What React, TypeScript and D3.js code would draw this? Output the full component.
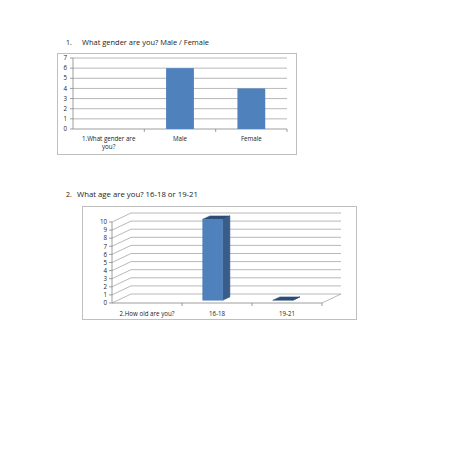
import * as d3 from "d3";

const genderCats = ["1.What gender are you?", "Male", "Female"];
const genderVals: (number | null)[] = [null, 6, 4];
const genderTicks = [0, 1, 2, 3, 4, 5, 6, 7];

const ageCats = ["2.How old are you?", "16-18", "19-21"];
const ageVals: (number | null)[] = [null, 10, 0];
const ageTicks = [0, 1, 2, 3, 4, 5, 6, 7, 8, 9, 10];

const FONT = "'Open Sans', 'Liberation Sans', sans-serif";
const GRID = "#a6a6a6";
const AXIS = "#868686";
const BOX = "#bfbfbf";
const BLUE = "#4f81bd";
const SIDE = "#385d8a";
const TOP = "#2c4d75";
const LABEL = 6.2;

function wrapLabel(label: string): string[] {
  // the long category name breaks onto two lines, like Excel does
  if (label.length < 16) return [label];
  const i = label.lastIndexOf(" ");
  return [label.slice(0, i), label.slice(i + 1)];
}

function GenderChart() {
  const left = 73;
  const right = 287;
  const x = d3
    .scaleBand<string>()
    .domain(genderCats)
    .range([left, right])
    .paddingInner(0.61)
    .paddingOuter(0.305);
  const step = x.step();
  const y = d3.scaleLinear([0, 7], [129, 58]);

  return (
    <g>
      <text x={66} y={44.5} fontSize={7} fontFamily={FONT} fill="#222">
        1.
      </text>
      <text
        x={82}
        y={44.5}
        fontSize={7}
        fontFamily={FONT}
        fill="#222"
        textLength={127}
        lengthAdjust="spacingAndGlyphs"
      >
        What gender are you? Male / Female
      </text>
      <rect x={57.5} y={53.5} width={239} height={101} fill="#fff" stroke={BOX} />
      {genderTicks.map((t) => (
        <g key={t}>
          {t > 0 && (
            <line x1={left} x2={right} y1={y(t)} y2={y(t)} stroke={GRID} strokeWidth={0.8} />
          )}
          <line x1={left - 3} x2={left} y1={y(t)} y2={y(t)} stroke={AXIS} strokeWidth={0.8} />
          <text
            x={left - 6}
            y={y(t) + 2.2}
            fontSize={LABEL}
            fontFamily={FONT}
            textAnchor="end"
            fill="#222"
          >
            {t}
          </text>
        </g>
      ))}
      <line x1={left} x2={left} y1={y(7)} y2={y(0)} stroke={AXIS} strokeWidth={0.8} />
      <line x1={left} x2={right} y1={y(0)} y2={y(0)} stroke={AXIS} strokeWidth={0.8} />
      {genderCats.map((c, i) => {
        const x0 = (x(c) ?? 0) - step * 0.305;
        const cx = (x(c) ?? 0) + x.bandwidth() / 2;
        const v = genderVals[i];
        return (
          <g key={c}>
            <line x1={x0 + step} x2={x0 + step} y1={y(0)} y2={y(0) + 3} stroke={AXIS} strokeWidth={0.8} />
            {v != null && (
              <rect
                x={x(c)}
                y={y(v)}
                width={x.bandwidth()}
                height={y(0) - y(v)}
                fill={BLUE}
              />
            )}
            {wrapLabel(c).map((line, j) => (
              <text
                key={j}
                x={cx}
                y={141 + j * 8}
                fontSize={LABEL}
                fontFamily={FONT}
                textAnchor="middle"
                fill="#222"
              >
                {line}
              </text>
            ))}
          </g>
        );
      })}
    </g>
  );
}

function AgeChart() {
  const left = 112;
  const right = 322;
  const depth = { dx: 19, dy: -9 };
  const x = d3.scaleBand<string>().domain(ageCats).range([left, right]);
  const y = d3.scaleLinear([0, 10], [303, 222]);
  const proj = (xf: number, v: number, d: number): [number, number] => [
    xf + d * depth.dx,
    y(v) + d * depth.dy,
  ];
  const pts = (p: [number, number][]) => p.map((q) => q.join(",")).join(" ");
  const dFront = 0.3;
  const dBack = 0.68;

  return (
    <g>
      <text x={66} y={196.5} fontSize={7} fontFamily={FONT} fill="#222">
        2.
      </text>
      <text
        x={77}
        y={196.5}
        fontSize={7}
        fontFamily={FONT}
        fill="#222"
        textLength={121}
        lengthAdjust="spacingAndGlyphs"
      >
        What age are you? 16-18 or 19-21
      </text>
      <rect x={82.5} y={206.5} width={274} height={113} fill="#fff" stroke={BOX} />
      {ageTicks.map((t) => {
        const [bx, by] = proj(left, t, 1);
        const [ex] = proj(right, t, 1);
        return (
          <g key={t}>
            <line x1={bx} x2={ex} y1={by} y2={by} stroke={GRID} strokeWidth={0.8} />
            <line x1={left} x2={bx} y1={y(t)} y2={by} stroke={GRID} strokeWidth={0.8} />
            <line x1={left - 3} x2={left} y1={y(t)} y2={y(t)} stroke={AXIS} strokeWidth={0.8} />
            <text
              x={left - 5}
              y={y(t) + 2.2}
              fontSize={LABEL}
              fontFamily={FONT}
              textAnchor="end"
              fill="#222"
            >
              {t}
            </text>
          </g>
        );
      })}
      <line x1={left} x2={left} y1={y(10)} y2={y(0)} stroke={AXIS} strokeWidth={0.8} />
      <line x1={left} x2={right} y1={y(0)} y2={y(0)} stroke={AXIS} strokeWidth={0.8} />
      <line
        x1={right}
        y1={y(0)}
        x2={proj(right, 0, 1)[0]}
        y2={proj(right, 0, 1)[1]}
        stroke={GRID}
        strokeWidth={0.8}
      />
      {ageCats.map((c, i) => {
        const x0 = x(c) ?? 0;
        const cx = x0 + x.bandwidth() / 2;
        const v = ageVals[i];
        const a = cx - 20;
        const b = cx;
        return (
          <g key={c}>
            <line
              x1={x0 + x.bandwidth()}
              x2={x0 + x.bandwidth()}
              y1={y(0)}
              y2={y(0) + 3}
              stroke={AXIS}
              strokeWidth={0.8}
            />
            {v != null && (
              <g>
                <polygon
                  points={pts([proj(b, 0, dFront), proj(b, 0, dBack), proj(b, v, dBack), proj(b, v, dFront)])}
                  fill={SIDE}
                  stroke={SIDE}
                  strokeWidth={0.5}
                />
                <polygon
                  points={pts([proj(a, v, dFront), proj(b, v, dFront), proj(b, v, dBack), proj(a, v, dBack)])}
                  fill={TOP}
                  stroke={TOP}
                  strokeWidth={0.5}
                />
                {v > 0 && (
                  <polygon
                    points={pts([proj(a, 0, dFront), proj(b, 0, dFront), proj(b, v, dFront), proj(a, v, dFront)])}
                    fill={BLUE}
                    stroke="#4a7ab4"
                    strokeWidth={0.5}
                  />
                )}
              </g>
            )}
            <text
              x={cx}
              y={315.5}
              fontSize={LABEL}
              fontFamily={FONT}
              textAnchor="middle"
              fill="#222"
            >
              {c}
            </text>
          </g>
        );
      })}
    </g>
  );
}

export default function App() {
  return (
    <svg
      width={453}
      height={453}
      viewBox="0 0 453 453"
      style={{ position: "absolute", left: 0, top: 0, background: "#fff" }}
    >
      <rect width={453} height={453} fill="#fff" />
      <GenderChart />
      <AgeChart />
    </svg>
  );
}
